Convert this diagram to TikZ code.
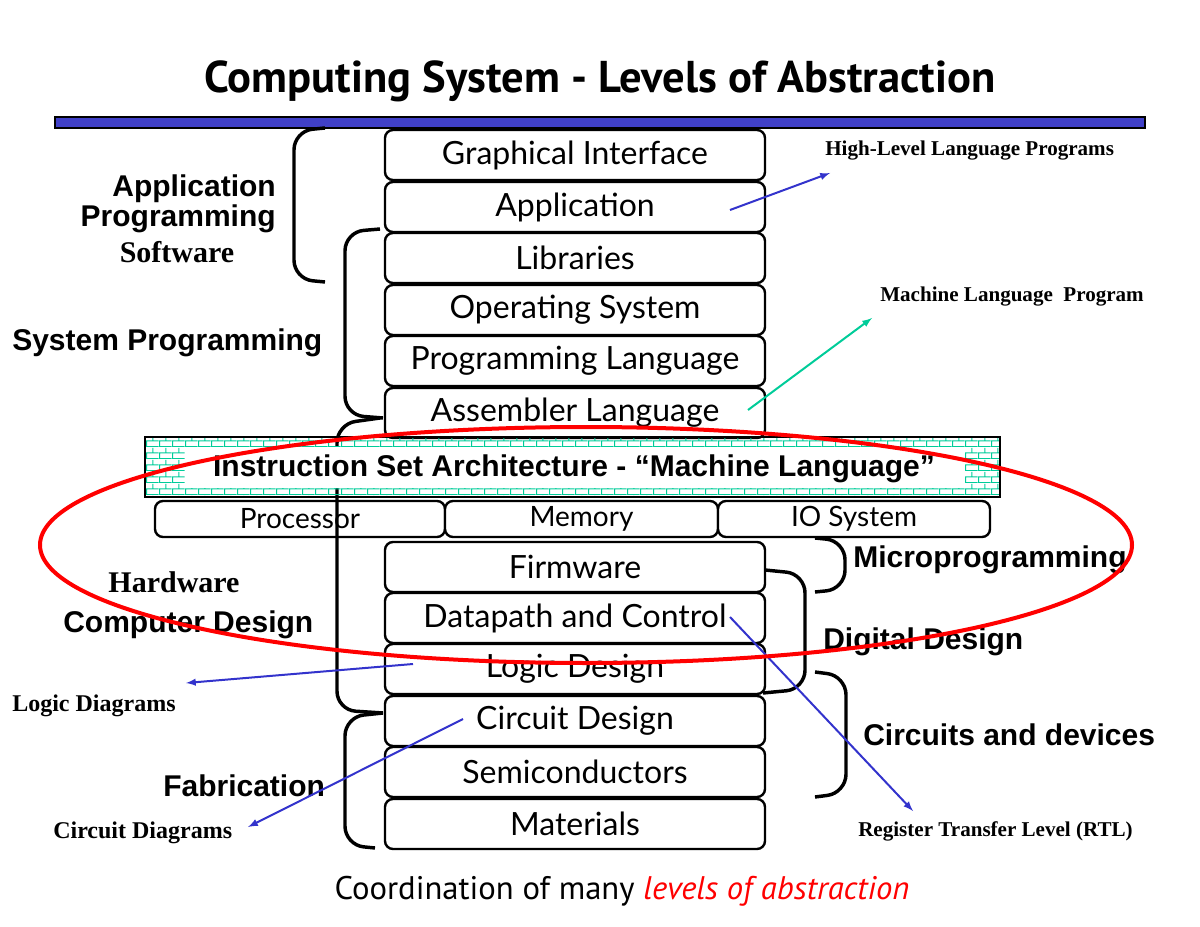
\documentclass[tikz,border=0pt]{standalone}
\usepackage{fontspec}
\setmainfont{Liberation Serif}
\newfontfamily\arialfont{Liberation Sans}
\newfontfamily\tahomafont{PT Sans}
\newfontfamily\comicfont{Lato}
\usetikzlibrary{patterns}
\definecolor{rulblue}{RGB}{64,64,200}
\definecolor{arrowblue}{RGB}{51,51,204}
\definecolor{isateal}{RGB}{0,204,153}
\pgfdeclarepatternformonly{isabricks}{\pgfqpoint{0pt}{0pt}}{\pgfqpoint{10pt}{9pt}}{\pgfqpoint{10pt}{9pt}}{
  \pgfsetlinewidth{0.8pt}
  \pgfpathmoveto{\pgfqpoint{0pt}{0.4pt}}\pgfpathlineto{\pgfqpoint{10pt}{0.4pt}}
  \pgfpathmoveto{\pgfqpoint{0pt}{4.9pt}}\pgfpathlineto{\pgfqpoint{10pt}{4.9pt}}
  \pgfpathmoveto{\pgfqpoint{0.4pt}{0.4pt}}\pgfpathlineto{\pgfqpoint{0.4pt}{4.9pt}}
  \pgfpathmoveto{\pgfqpoint{5.4pt}{4.9pt}}\pgfpathlineto{\pgfqpoint{5.4pt}{9pt}}
  \pgfusepath{stroke}
}
\tikzset{
  layer/.style={draw, line width=1.8pt, rounded corners=6pt, fill=white, minimum width=285pt,
    minimum height=37.5pt, inner sep=0pt, font=\comicfont\fontsize{24}{28}\selectfont},
  unit/.style={layer, minimum height=27pt, font=\comicfont\fontsize{21}{24}\selectfont},
  bracket/.style={line width=2.6pt, rounded corners=14pt},
  biglabel/.style={inner sep=0pt, align=right, font=\arialfont\bfseries\fontsize{22.5}{22.5}\selectfont},
  serflabel/.style={inner sep=0pt, font=\bfseries\fontsize{22.5}{27}\selectfont},
  notelabel/.style={inner sep=0pt, font=\bfseries\fontsize{18}{21}\selectfont},
  smallnote/.style={inner sep=0pt, font=\bfseries\fontsize{15.8}{19}\selectfont},
  pointer/.style={-latex, line width=1.5pt, arrowblue}
}
\begin{document}
\begin{tikzpicture}[x=0.75pt,y=-0.75pt]
\useasboundingbox (0,0) rectangle (1200,927);
% title and rule
\node (title) at (600,81) {\tahomafont\bfseries\fontsize{33.4}{38}\selectfont Computing System - Levels of Abstraction};
\draw [line width=1.2pt, fill=rulblue] (55,117) rectangle (1145,128);
% software stack
\node[layer] (gui) at (575,155) {Graphical Interface};
\node[layer] (app) at (575,207) {Application};
\node[layer] (lib) at (575,258) {Libraries};
\node[layer] (os) at (575,310) {Operating System};
\node[layer] (pl) at (575,361) {Programming Language};
\node[layer] (asm) at (575,413) {Assembler Language};
% processor, memory, io
\node[unit, minimum width=217.5pt] (cpu) at (300,519) {Processor};
\node[unit, minimum width=204.75pt] (mem) at (581.5,519) {Memory};
\node[unit, minimum width=204pt] (io) at (854,519) {IO System};
% hardware stack
\node[layer] (fw) at (575,567) {Firmware};
\node[layer] (dp) at (575,618) {Datapath and Control};
\node[layer] (logic) at (575,669) {Logic Design};
\node[layer] (circ) at (575,721) {Circuit Design};
\node[layer] (semi) at (575,772) {Semiconductors};
\node[layer] (mat) at (575,824) {Materials};
% brackets
\draw [bracket] (325,128) -- (294,131) -- (294,279) -- (325,282);
\draw [bracket] (380,229) -- (345,232) -- (345,415) -- (383,418);
\draw [bracket] (380,418) -- (337,424) -- (337,710) -- (383,713);
\draw [bracket] (383,713) -- (345,717) -- (345,845) -- (375,848);
\draw [bracket] (815,538) -- (845,541) -- (845,589) -- (815,592);
\draw [bracket] (765,570) -- (805,574) -- (805,689) -- (763,693);
\draw [bracket] (815,672) -- (846,676) -- (846,793) -- (815,797);
% instruction set band
\fill [pattern=isabricks, pattern color=isateal] (145,437) rectangle (1000,497);
\fill [white] (185,447) rectangle (965,488);
\node[draw, line width=2.2pt, minimum width=641.25pt, minimum height=45pt, inner sep=0pt,
  font=\arialfont\bfseries\fontsize{22.5}{27}\selectfont] (isa) at (572.5,467) {};
\node[font=\arialfont\bfseries\fontsize{22.5}{27}\selectfont, inner sep=0pt] (isatext) at (574,469)
  {Instruction Set Architecture - “Machine Language”};
% left labels
\node[biglabel, anchor=east] (apgm) at (276,204) {Application\\Programming};
\node[serflabel] (sw) at (177,252) {Software};
\node[biglabel, anchor=west] (sysp) at (12,343) {System Programming};
\node[serflabel] (hw) at (174,582) {Hardware};
\node[biglabel, anchor=west] (cdes) at (63,625) {Computer Design};
\node[notelabel, anchor=west] (ldia) at (12,706) {Logic Diagrams};
\node[biglabel, anchor=west] (fab) at (163,786) {Fabrication};
\node[notelabel, anchor=west] (cdia) at (53,833) {Circuit Diagrams};
% right labels
\node[smallnote, anchor=west] (hllp) at (825,151) {High-Level Language Programs};
\node[smallnote, anchor=west] (mlp) at (880,297) {Machine Language\ \ Program};
\node[biglabel, anchor=west] (mprog) at (853,560) {Microprogramming};
\node[biglabel, anchor=west] (ddes) at (823,642) {Digital Design};
\node[biglabel, anchor=west] (cdev) at (863,735) {Circuits and devices};
\node[smallnote, anchor=west] (rtl) at (858,831) {Register Transfer Level (RTL)};
% arrows
\coordinate (appTail) at (730,210);
\coordinate (hllpHead) at (830,173);
\coordinate (asmTail) at (748,410);
\coordinate (mlpHead) at (872,318);
\coordinate (logicTail) at (413,664);
\coordinate (ldiaHead) at (186,683);
\coordinate (circTail) at (463,719);
\coordinate (cdiaHead) at (248,827);
\coordinate (dpTail) at (730,617);
\coordinate (rtlHead) at (913,811);
\draw [pointer] (appTail) -- (hllpHead);
\draw [pointer, isateal] (asmTail) -- (mlpHead);
\draw [pointer] (logicTail) -- (ldiaHead);
\draw [pointer] (circTail) -- (cdiaHead);
\draw [pointer] (dpTail) -- (rtlHead);
% footer and ellipse
\node (foot) at (622,891) {\tahomafont\fontsize{24.5}{28}\selectfont Coordination of many \textcolor{red}{\itshape levels of abstraction}};
\draw [red, line width=3pt] (586,545) ellipse [x radius=546, y radius=118];
\end{tikzpicture}
\end{document}
